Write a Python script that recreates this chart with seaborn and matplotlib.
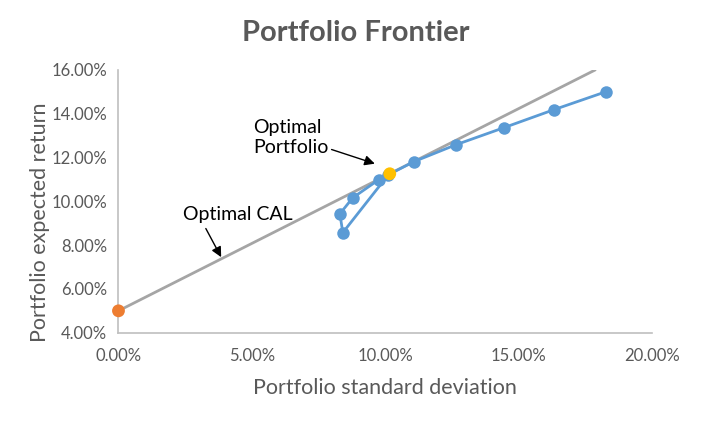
import matplotlib
matplotlib.use("Agg")
import matplotlib.pyplot as plt
import seaborn as sns
import pandas as pd
from matplotlib.ticker import FuncFormatter, MultipleLocator

# Data (in percent)
frontier_sd = [18.26, 16.31, 14.44, 12.64, 11.07, 9.76, 8.78, 8.30, 8.41, 10.12]
frontier_ret = [15.00, 14.18, 13.36, 12.58, 11.81, 10.99, 10.16, 9.43, 8.57, 11.22]
rf_sd = [0.0]
rf_ret = [5.0]
opt_sd = [10.17]
opt_ret = [11.26]
cal_sd = [0.0, 17.87]
cal_ret = [5.0, 16.0]

sns.set_theme(style="white")
plt.rcParams['font.family'] = ['Lato', 'DejaVu Sans']

fig = plt.figure(figsize=(7.12, 4.24), dpi=100)
ax = fig.add_axes([0.1664, 0.2153, 0.7493, 0.6197])

frontier = pd.DataFrame({"sd": frontier_sd, "ret": frontier_ret})
cal = pd.DataFrame({"sd": cal_sd, "ret": cal_ret})

sns.lineplot(data=cal, x="sd", y="ret", ax=ax, color="#A5A5A5", linewidth=2.0, sort=False, zorder=2)
sns.lineplot(data=frontier, x="sd", y="ret", ax=ax, color="#5B9BD5", linewidth=2.0, sort=False,
             marker="o", markersize=9, markeredgewidth=0, markerfacecolor="#5B9BD5", zorder=3)
sns.scatterplot(x=rf_sd, y=rf_ret, ax=ax, color="#ED7D31", s=85, edgecolor="none", zorder=4, clip_on=False)
sns.scatterplot(x=opt_sd, y=opt_ret, ax=ax, color="#FFC000", s=85, edgecolor="none", zorder=5)

ax.set_xlim(0, 20)
ax.set_ylim(4, 16)
ax.xaxis.set_major_locator(MultipleLocator(5))
ax.yaxis.set_major_locator(MultipleLocator(2))
ax.xaxis.set_major_formatter(FuncFormatter(lambda v, p: f"{v:.2f}%"))
ax.yaxis.set_major_formatter(FuncFormatter(lambda v, p: f"{v:.2f}%"))
ax.tick_params(axis="both", length=0, labelsize=12, labelcolor="#595959")
ax.tick_params(axis="x", pad=11)
ax.tick_params(axis="y", pad=8)

for s in ["top", "right"]:
    ax.spines[s].set_visible(False)
for s in ["left", "bottom"]:
    ax.spines[s].set_color("#BFBFBF")
    ax.spines[s].set_linewidth(1.2)

ax.set_xlabel("Portfolio standard deviation", fontsize=15.5, color="#595959", labelpad=10)
ax.set_ylabel("Portfolio expected return", fontsize=15.5, color="#595959")
ax.yaxis.set_label_coords(-0.128, 0.42)
fig.text(0.499, 0.921, "Portfolio Frontier", ha="center", va="center", fontsize=21,
         fontweight="bold", color="#595959")

ax.annotate("Optimal\nPortfolio", xy=(9.61, 11.72), xytext=(5.04, 12.08),
            fontsize=14, color="black", ha="left", va="bottom", linespacing=1.2,
            arrowprops=dict(arrowstyle="-|>", color="black", lw=1.0, mutation_scale=15,
                            shrinkA=0, shrinkB=0, relpos=(1.0, 0.2)))
ax.annotate("Optimal CAL", xy=(3.85, 7.45), xytext=(2.42, 9.02),
            fontsize=14, color="black", ha="left", va="bottom",
            arrowprops=dict(arrowstyle="-|>", color="black", lw=1.0, mutation_scale=15,
                            shrinkA=2, shrinkB=0, relpos=(0.18, 0.0)))

fig.savefig("out.png", dpi=100)
